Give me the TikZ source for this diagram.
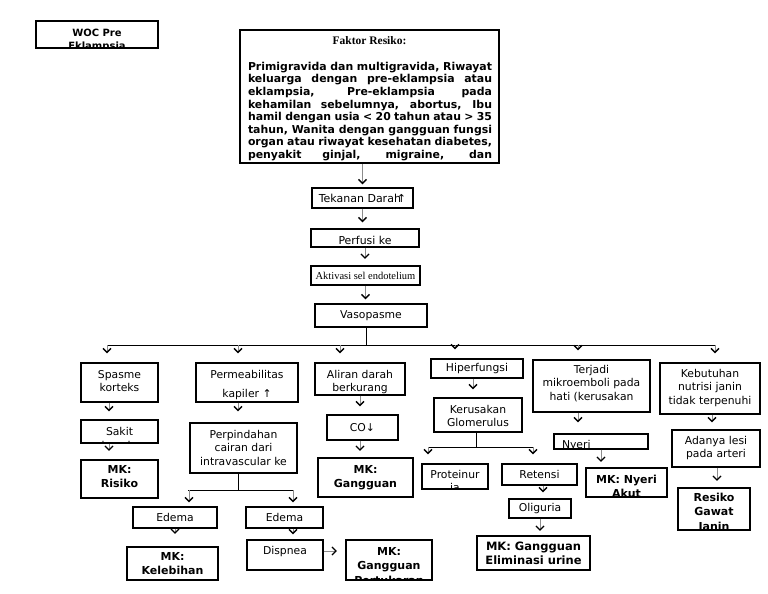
\documentclass[tikz,border=0pt]{standalone}
\usepackage{fontspec}
\setmainfont{DejaVu Sans}
\newfontfamily\serifF{Liberation Serif}
\usetikzlibrary{arrows.meta}
\def\curTF{\fontsize{10.8}{13.5}\selectfont}
\tikzset{
  box/.style={draw=black,line width=1.4pt,fill=white},
  tk/.style={line width=2.2pt},
  tf/.store in=\curTF,
  txt/.style={draw=none,fill=none,inner sep=0pt,outer sep=0pt,minimum width=0pt,minimum height=0pt,align=center,font=\curTF},
  arr/.style={draw=black!45,line width=0.6pt,shorten >=#1,-{Straight Barb[black,length=4pt,width=8pt,line width=1.3pt]}},
  arr/.default=7pt,
  bus/.style={draw=black,line width=0.8pt}
}
\newcommand\bld{\bfseries\fontsize{11}{14.5}\selectfont}
% \tbx[opts]{name}{x1}{y1}{x2}{y2}{pad}{text}: text hung from the top, clipped by the box
\newcommand\tbx[8][]{%
  \pgfmathsetmacro\tbW{#5-#3}\pgfmathsetmacro\tbH{#6-#4}%
  \pgfmathsetmacro\tbX{(#3+#5)/2}\pgfmathsetmacro\tbY{(#4+#6)/2}%
  \node[box,#1,minimum width=\tbW pt,minimum height=\tbH pt,inner sep=0pt,
    path picture={\node[txt,anchor=north] at ([yshift=-#7pt]path picture bounding box.north) {#8};}]
    (#2) at (\tbX,\tbY) {};}
% \cbx[opts]{name}{x1}{y1}{x2}{y2}{text}: text centred
\newcommand\cbx[7][]{%
  \pgfmathsetmacro\tbW{#5-#3}\pgfmathsetmacro\tbH{#6-#4}%
  \pgfmathsetmacro\tbX{(#3+#5)/2}\pgfmathsetmacro\tbY{(#4+#6)/2}%
  \node[box,#1,minimum width=\tbW pt,minimum height=\tbH pt,inner sep=0pt,
    path picture={\node[txt] at (path picture bounding box.center) {#7};}]
    (#2) at (\tbX,\tbY) {};}
\begin{document}
\begin{tikzpicture}[x=1pt,y=-1pt]
\fill[white] (0,0) rectangle (768,594);
\useasboundingbox (0,0) rectangle (768,594);

% top
\tbx[tf={\bfseries\fontsize{10}{13}\selectfont}]{woc}{36}{21}{158}{48}{8}{WOC Pre\\Eklampsia}
\node[box,line width=2.5pt,minimum width=259pt,minimum height=133pt,inner sep=0pt,path picture={
  \node[txt,anchor=north,font=\serifF\bfseries\fontsize{11.5}{12}\selectfont] at ([yshift=-7pt]path picture bounding box.north) {Faktor Resiko:};
  \node[txt,anchor=north west,align=left] at ([xshift=8pt,yshift=-32pt]path picture bounding box.north west) {%
    \parbox[t]{244pt}{\bfseries\fontsize{10.9}{12.6}\selectfont\hyphenpenalty=10000\exhyphenpenalty=10000\hbadness=10000
    Primigravida dan multigravida, Riwayat\linebreak
    keluarga dengan pre-eklampsia atau\linebreak
    eklampsia, Pre-eklampsia pada\linebreak
    kehamilan sebelumnya, abortus, Ibu\linebreak
    hamil dengan usia < 20 tahun atau > 35\linebreak
    tahun, Wanita dengan gangguan fungsi\linebreak
    organ atau riwayat kesehatan diabetes,\linebreak
    penyakit ginjal, migraine, dan\linebreak
    hipertensi kronik, Kehamilan ganda}};
}] (faktor) at (369.5,96.5) {};

\cbx[tf={\fontsize{11}{13}\selectfont}]{tek}{312}{188}{413}{208}{Tekanan Darah\kern-4pt↑}
\tbx[tf={\fontsize{10.9}{13}\selectfont}]{perf}{311}{229}{419}{247}{7}{Perfusi ke\\otak}
\cbx[tk,tf={\serifF\fontsize{10.5}{11}\selectfont}]{akt}{311}{266}{420}{285}{Aktivasi sel endotelium}
\cbx{vaso}{315}{304}{427}{327}{Vasopasme}

% row 1
\tbx{spasme}{81}{363}{158}{402}{7}{Spasme\\korteks}
\tbx{perm}{196}{363}{298}{402}{7}{Permeabilitas\\[6pt]kapiler ↑}
\tbx{aliran}{315}{363}{405}{395}{7}{Aliran darah\\berkurang}
\cbx{hiper}{431}{359}{523}{378}{Hiperfungsi}
\tbx{terjadi}{533}{360}{650}{412}{5}{Terjadi\\mikroemboli pada\\hati (kerusakan}
\tbx{kebut}{660}{363}{760}{414}{6}{Kebutuhan\\nutrisi janin\\tidak terpenuhi}

% row 2
\tbx{sakit}{81}{420}{158}{443}{7.5}{Sakit\\kepala}
\tbx[tk,tf=\bld]{risiko}{81}{460}{158}{498}{5}{MK:\\Risiko}
\tbx{perp}{190}{423}{297}{473}{7}{Perpindahan\\cairan dari\\intravascular ke}
\cbx{co}{327}{415}{398}{440}{CO↓}
\tbx[tk,tf=\bld]{mkga}{318}{458}{413}{497}{7}{MK:\\Gangguan}
\tbx{kerus}{434}{398}{522}{432}{7}{Kerusakan\\Glomerulus}
\node[box,minimum width=94pt,minimum height=15pt,inner sep=0pt,path picture={\node[txt,anchor=west] at ([xshift=8pt,yshift=-4pt]path picture bounding box.west) {Nyeri};}] (nyeri) at (601,441.5) {};
\tbx[tk,tf=\bld]{mknyeri}{586}{468}{667}{497}{7}{MK: Nyeri\\Akut}
\tbx{adanya}{672}{430}{760}{467}{6}{Adanya lesi\\pada arteri}
\tbx[tk,tf=\bld]{resiko}{678}{488}{750}{530}{5}{Resiko\\Gawat\\Janin}

% row 3
\tbx{prot}{422}{464}{488}{489}{6}{Proteinur\\ia}
\cbx{ret}{502}{464}{577}{485}{Retensi}
\cbx{olig}{509}{499}{571}{518}{Oliguria}
\tbx[tk,tf={\bfseries\fontsize{11.5}{14}\selectfont}]{mkelim}{477}{536}{590}{570}{6}{MK: Gangguan\\Eliminasi urine}
\cbx{edemaL}{133}{507}{217}{528}{Edema}
\cbx{edemaR}{246}{507}{323}{528}{Edema}
\tbx[tk,tf=\bld]{mkkel}{127}{547}{218}{580}{5}{MK:\\Kelebihan\\volume}
\tbx{disp}{247}{540}{323}{570}{6}{Dispnea}
\tbx[tk,tf=\bld]{mkgb}{346}{540}{432}{580}{7}{MK:\\Gangguan\\Pertukaran}

% connectors: top chain
\draw[arr=3pt] (faktor.south -| tek.north) -- (tek.north);
\draw[arr=6pt] (tek.south) -- (tek.south |- perf.north);
\draw[arr=6pt] (perf.south) -- (perf.south |- akt.north);
\draw[arr=4pt] (akt.south) -- (akt.south |- vaso.north);
\coordinate (busL) at (107,345);
\coordinate (busR) at (715,345);
\draw[bus] (vaso.south -| 366,0) -- (366,345);
\draw[bus] (busL) -- (busR);
\foreach \x/\n in {107/spasme,238/perm,340/aliran,455/hiper,578/terjadi,715/kebut}
  \draw[arr=9pt] (\x,345) -- (\n.north -| \x,0);

% column 1
\draw[arr=8pt] (spasme.south -| 109,0) -- (sakit.north -| 109,0);
\draw[arr=8pt] (sakit.south -| 109,0) -- (risiko.north -| 109,0);
% column 2
\draw[arr=11pt] (perm.south -| 238,0) -- (perp.north -| 238,0);
\coordinate (pbL) at (188,490);
\coordinate (pbR) at (293,490);
\draw[bus] (perp.south -| 238,0) -- (238,490);
\draw[bus] (pbL) -- (pbR);
\draw[arr=4pt] (189,490) -- (edemaL.north -| 189,0);
\draw[arr=4pt] (pbR) -- (edemaR.north -| 293,0);
\draw[arr=12pt] (edemaL.south -| 175,0) -- (mkkel.north -| 175,0);
\draw[arr=5pt] (edemaR.south -| 293,0) -- (disp.north -| 293,0);
\draw[arr=8pt] ([yshift=4pt]disp.east) -- ([yshift=4pt]disp.east -| mkgb.west);
% column 3
\draw[arr=8pt] (aliran.south -| 360,0) -- (co.north -| 360,0);
\draw[arr=6pt] (co.south -| 360,0) -- (mkga.north -| 360,0);
% column 4
\draw[arr=8pt] (hiper.south -| 473,0) -- (kerus.north -| 473,0);
\coordinate (kbL) at (428,447);
\coordinate (kbR) at (533,447);
\draw[bus] (kerus.south -| 476,0) -- (476,447);
\draw[bus] (kbL) -- (kbR);
\draw[arr=9pt] (kbL) -- (prot.north -| 428,0);
\draw[arr=9pt] (kbR) -- (ret.north -| 533,0);
\draw[arr=6pt] (ret.south -| 543,0) -- (olig.north -| 543,0);
\draw[arr=4pt] (olig.south -| 540,0) -- (mkelim.north -| 540,0);
% column 5
\draw[arr=11pt] (terjadi.south -| 578,0) -- (nyeri.north -| 578,0);
\draw[arr=5pt] (nyeri.south -| 601,0) -- (mknyeri.north -| 601,0);
% column 6
\draw[arr=7pt] (kebut.south -| 712,0) -- (adanya.north -| 712,0);
\draw[arr=6pt] (adanya.south -| 717,0) -- (resiko.north -| 717,0);
\end{tikzpicture}
\end{document}
